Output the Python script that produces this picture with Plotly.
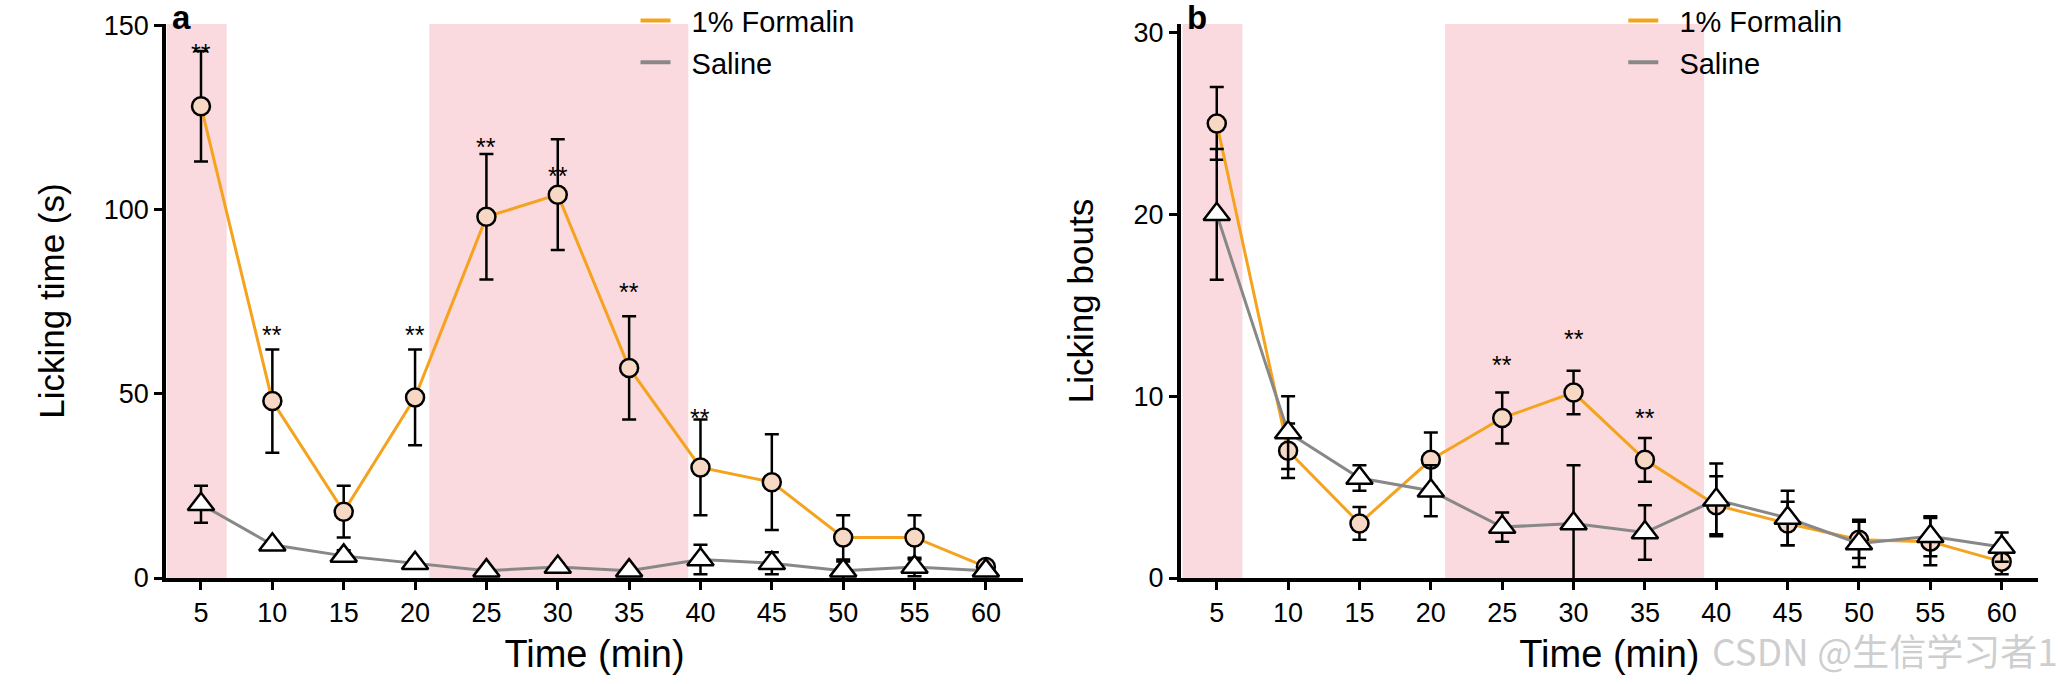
import plotly.graph_objects as go

# ---------------- data ----------------
time_min = [5, 10, 15, 20, 25, 30, 35, 40, 45, 50, 55, 60]
tick_labels = ["5", "10", "15", "20", "25", "30", "35", "40", "45", "50", "55", "60"]

# Panel a: licking time (s)
a_formalin = [128, 48, 18, 49, 98, 104, 57, 30, 26, 11, 11, 3]
a_formalin_err = [15, 14, 7, 13, 17, 15, 14, 13, 13, 6, 6, 1]
a_saline = [20, 9, 6, 4, 2, 3, 2, 5, 4, 2, 3, 2]
a_saline_err = [5, 1, 1.5, 1, 0.5, 1, 0.5, 4, 3, 2.5, 2.5, 0.5]
a_star_x = [5, 10, 20, 25, 30, 35, 40]
a_star_y = [142.5, 66, 66, 117, 109, 77.5, 43.5]

# Panel b: licking bouts
b_formalin = [25, 7, 3, 6.5, 8.8, 10.2, 6.5, 4, 3, 2.1, 2, 0.9]
b_formalin_err = [2, 1.5, 0.9, 1.5, 1.4, 1.2, 1.2, 1.6, 1.2, 1.0, 1.3, 0.7]
b_saline = [20, 8, 5.5, 4.8, 2.8, 3, 2.5, 4.3, 3.3, 1.9, 2.3, 1.7]
b_saline_err = [3.6, 2, 0.7, 1.4, 0.8, 3.2, 1.5, 2, 1.5, 1.3, 1.1, 0.8]
b_star_x = [25, 30, 35]
b_star_y = [11.7, 13.15, 8.8]

# shaded phases (min)
phase_bands = [(2.6, 6.8), (21.0, 39.15)]

series_names = ["1% Formalin", "Saline"]

# ---------------- style ----------------
ORANGE = "#F5A31E"
GRAY = "#888888"
PEACH = "#F7D8C5"
PINK = "#FADADE"
FONT = "Liberation Sans, Arial, sans-serif"

fig = go.Figure()

panels = [
    dict(xa="x", ya="y", form=a_formalin, form_err=a_formalin_err,
         sal=a_saline, sal_err=a_saline_err, sx=a_star_x, sy=a_star_y,
         legend="legend", ymax=150.3),
    dict(xa="x2", ya="y2", form=b_formalin, form_err=b_formalin_err,
         sal=b_saline, sal_err=b_saline_err, sx=b_star_x, sy=b_star_y,
         legend="legend2", ymax=30.47),
]

for p in panels:
    # formalin
    fig.add_trace(go.Scatter(
        x=time_min, y=p["form"], xaxis=p["xa"], yaxis=p["ya"],
        mode="lines+markers", showlegend=False,
        line=dict(color=ORANGE, width=3),
        marker=dict(symbol="circle", size=18, color=PEACH,
                    line=dict(color="black", width=2.5)),
        error_y=dict(type="data", array=p["form_err"], visible=True,
                     color="black", thickness=2.5, width=7),
    ))
    # saline
    fig.add_trace(go.Scatter(
        x=time_min, y=p["sal"], xaxis=p["xa"], yaxis=p["ya"],
        mode="lines+markers", showlegend=False,
        line=dict(color=GRAY, width=3),
        marker=dict(symbol="triangle-up", size=23, color="white",
                    line=dict(color="black", width=2.5)),
        error_y=dict(type="data", array=p["sal_err"], visible=True,
                     color="black", thickness=2.5, width=7),
    ))
    # legend-only entries (line samples)
    for name, col in zip(series_names, [ORANGE, GRAY]):
        fig.add_trace(go.Scatter(
            x=[None], y=[None], xaxis=p["xa"], yaxis=p["ya"],
            mode="lines", name="&nbsp;&nbsp;" + name, legend=p["legend"],
            legendgroup=p["legend"] + name,
            line=dict(color=col, width=4),
        ))
    # significance stars
    for sx, sy in zip(p["sx"], p["sy"]):
        fig.add_annotation(x=sx, y=sy, xref=p["xa"], yref=p["ya"], text="**",
                           showarrow=False, font=dict(family=FONT, size=25, color="black"),
                           yanchor="middle")
    # phase shading
    for x0, x1 in phase_bands:
        fig.add_shape(type="rect", xref=p["xa"], yref=p["ya"], x0=x0, x1=x1,
                      y0=0, y1=p["ymax"], fillcolor=PINK, line=dict(width=0),
                      layer="below")

axis_common = dict(
    showline=True, linecolor="black", linewidth=3.5, mirror=False,
    ticks="outside", ticklen=8, tickwidth=3, tickcolor="black",
    showgrid=False, zeroline=False,
    tickfont=dict(family=FONT, size=27, color="black"),
)

fig.update_layout(
    width=2060, height=684,
    margin=dict(l=0, r=0, t=24, b=106, autoexpand=False),
    paper_bgcolor="white", plot_bgcolor="white",
    font=dict(family=FONT, color="black"),
    xaxis=dict(domain=[0.0806, 0.4966], range=[2.55, 62.6], anchor="y",
               tickvals=time_min, ticktext=tick_labels,
               title=dict(text="Time (min)", font=dict(size=38), standoff=14),
               **axis_common),
    yaxis=dict(domain=[0, 1], range=[0, 150.3], anchor="x",
               tickvals=[0, 50, 100, 150],
               title=dict(text="Licking time (s)", font=dict(size=35), standoff=30),
               **axis_common),
    xaxis2=dict(domain=[0.5732, 0.9893], range=[2.48, 62.54], anchor="y2",
                tickvals=time_min, ticktext=tick_labels,
                title=dict(text="Time (min)", font=dict(size=38), standoff=14),
                **axis_common),
    yaxis2=dict(domain=[0, 1], range=[0, 30.47], anchor="x2",
                tickvals=[0, 10, 20, 30],
                title=dict(text="Licking bouts", font=dict(size=35), standoff=30),
                **axis_common),
    legend=dict(x=0.3085, y=1.052, xanchor="left", yanchor="top",
                bgcolor="rgba(0,0,0,0)", font=dict(family=FONT, size=29),
                tracegroupgap=1, itemwidth=30),
    legend2=dict(x=0.788, y=1.052, xanchor="left", yanchor="top",
                 bgcolor="rgba(0,0,0,0)", font=dict(family=FONT, size=29),
                 tracegroupgap=1, itemwidth=30),
)

# panel letters
for letter, xa in [("a", "x"), ("b", "x2")]:
    fig.add_annotation(text="<b>%s</b>" % letter, xref=xa + " domain", yref="y domain",
                       x=0.005, y=1.012, xanchor="left", yanchor="middle",
                       showarrow=False, font=dict(family=FONT, size=33, color="black"))

# watermark
fig.add_annotation(text="CSDN @生信学习者1", xref="paper", yref="paper", x=1.0, y=-0.13,
                   xanchor="right", yanchor="middle", showarrow=False,
                   font=dict(family="Noto Sans CJK SC", size=37, color="rgba(185,185,185,0.7)"))

fig.write_html("out.html")
